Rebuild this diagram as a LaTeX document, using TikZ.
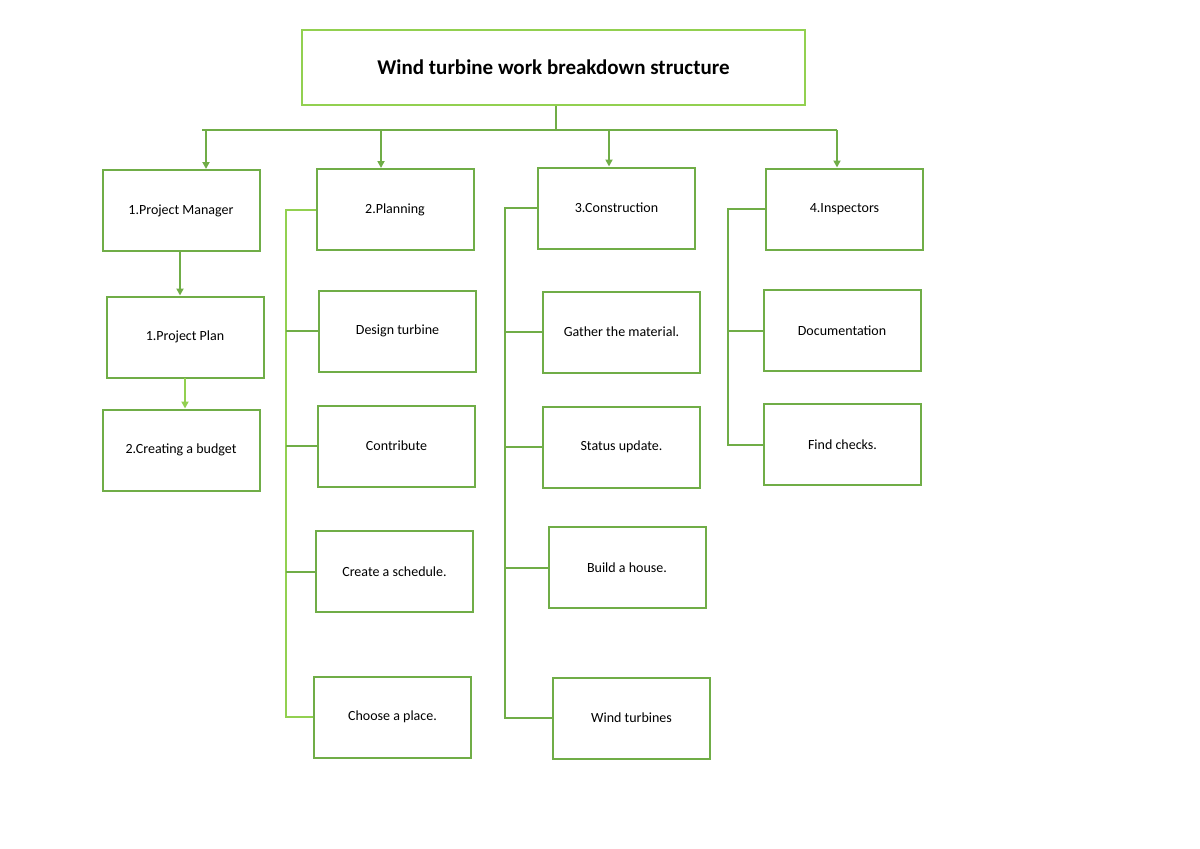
\documentclass[tikz,border=0pt]{standalone}
\usepackage{fontspec}
\setmainfont{Carlito}
\usetikzlibrary{arrows.meta}
\definecolor{gr}{HTML}{70AD47}
\definecolor{lg}{HTML}{92D050}
\begin{document}
\begin{tikzpicture}[x=1pt,y=-1pt,
 bx/.style={draw=gr,line width=2pt,minimum width=157pt,minimum height=81pt,font=\fontsize{14}{16}\selectfont,inner sep=0pt},
 ln/.style={draw=gr,line width=2pt},
 ar/.style={ln,-{Triangle[length=7pt,width=7pt]}}]
\useasboundingbox (0,0) rectangle (1200,849);
\node[bx,draw=lg,minimum width=503pt,minimum height=75pt,font=\fontsize{21}{24}\selectfont\bfseries] (t) at (553.5,67.5) {Wind turbine work breakdown structure};
\node[bx] (pm) at (181,210.5) {1.Project Manager};
\node[bx] (pl) at (395,209.5) {2.Planning};
\node[bx] (co) at (616.5,208) {3.Construction};
\node[bx] (in) at (844.5,209) {4.Inspectors};
\node[bx] (pp) at (185,337) {1.Project Plan};
\node[bx] (bu) at (181,450) {2.Creating a budget};
\node[bx] (dt) at (397.5,331) {Design turbine};
\node[bx] (cb) at (396.5,446) {Contribute};
\node[bx] (cs) at (394.5,571.5) {Create a schedule.};
\node[bx] (cp) at (392.5,717) {Choose a place.};
\node[bx] (gm) at (621.5,332) {Gather the material.};
\node[bx] (su) at (621.5,447) {Status update.};
\node[bx] (bh) at (627,567.5) {Build a house.};
\node[bx] (wt) at (631.5,718) {Wind turbines};
\node[bx] (dc) at (842,330.5) {Documentation};
\node[bx] (fc) at (842.5,444.5) {Find checks.};
\coordinate (j) at (556,130);
\coordinate (a1) at (206,130);
\coordinate (a2) at (381,130);
\coordinate (a3) at (609,130);
\coordinate (a4) at (837,130);
\coordinate (b1) at (180,251);
\coordinate (b2) at (185,378);
\coordinate (s1) at (286,205);
\coordinate (s2) at (505,207);
\coordinate (s3) at (728,204);
\draw[ln] (t.south -| j) -- (j);
\draw[ln] (202,130) -- (837,130);
\draw[ar] (a1) -- (a1 |- pm.north);
\draw[ar] (a2) -- (a2 |- pl.north);
\draw[ar] (a3) -- (a3 |- co.north);
\draw[ar] (a4) -- (a4 |- in.north);
\draw[ar] (b1) -- (b1 |- pp.north);
\draw[ar,draw=lg] (b2) -- (b2 |- bu.north);
\draw[ln,draw=lg] (pl.west) -- (s1 |- pl.west) -- (s1 |- cp.west) -- (cp.west);
\foreach \n in {dt,cb,cs} \draw[ln] (s1 |- \n.west) -- (\n.west);
\draw[ln] (co.west) -- (s2 |- co.west) -- (s2 |- wt.west) -- (wt.west);
\foreach \n in {gm,su,bh} \draw[ln] (s2 |- \n.west) -- (\n.west);
\draw[ln] (in.west) -- (s3 |- in.west) -- (s3 |- fc.west) -- (fc.west);
\draw[ln] (s3 |- dc.west) -- (dc.west);
\end{tikzpicture}
\end{document}
